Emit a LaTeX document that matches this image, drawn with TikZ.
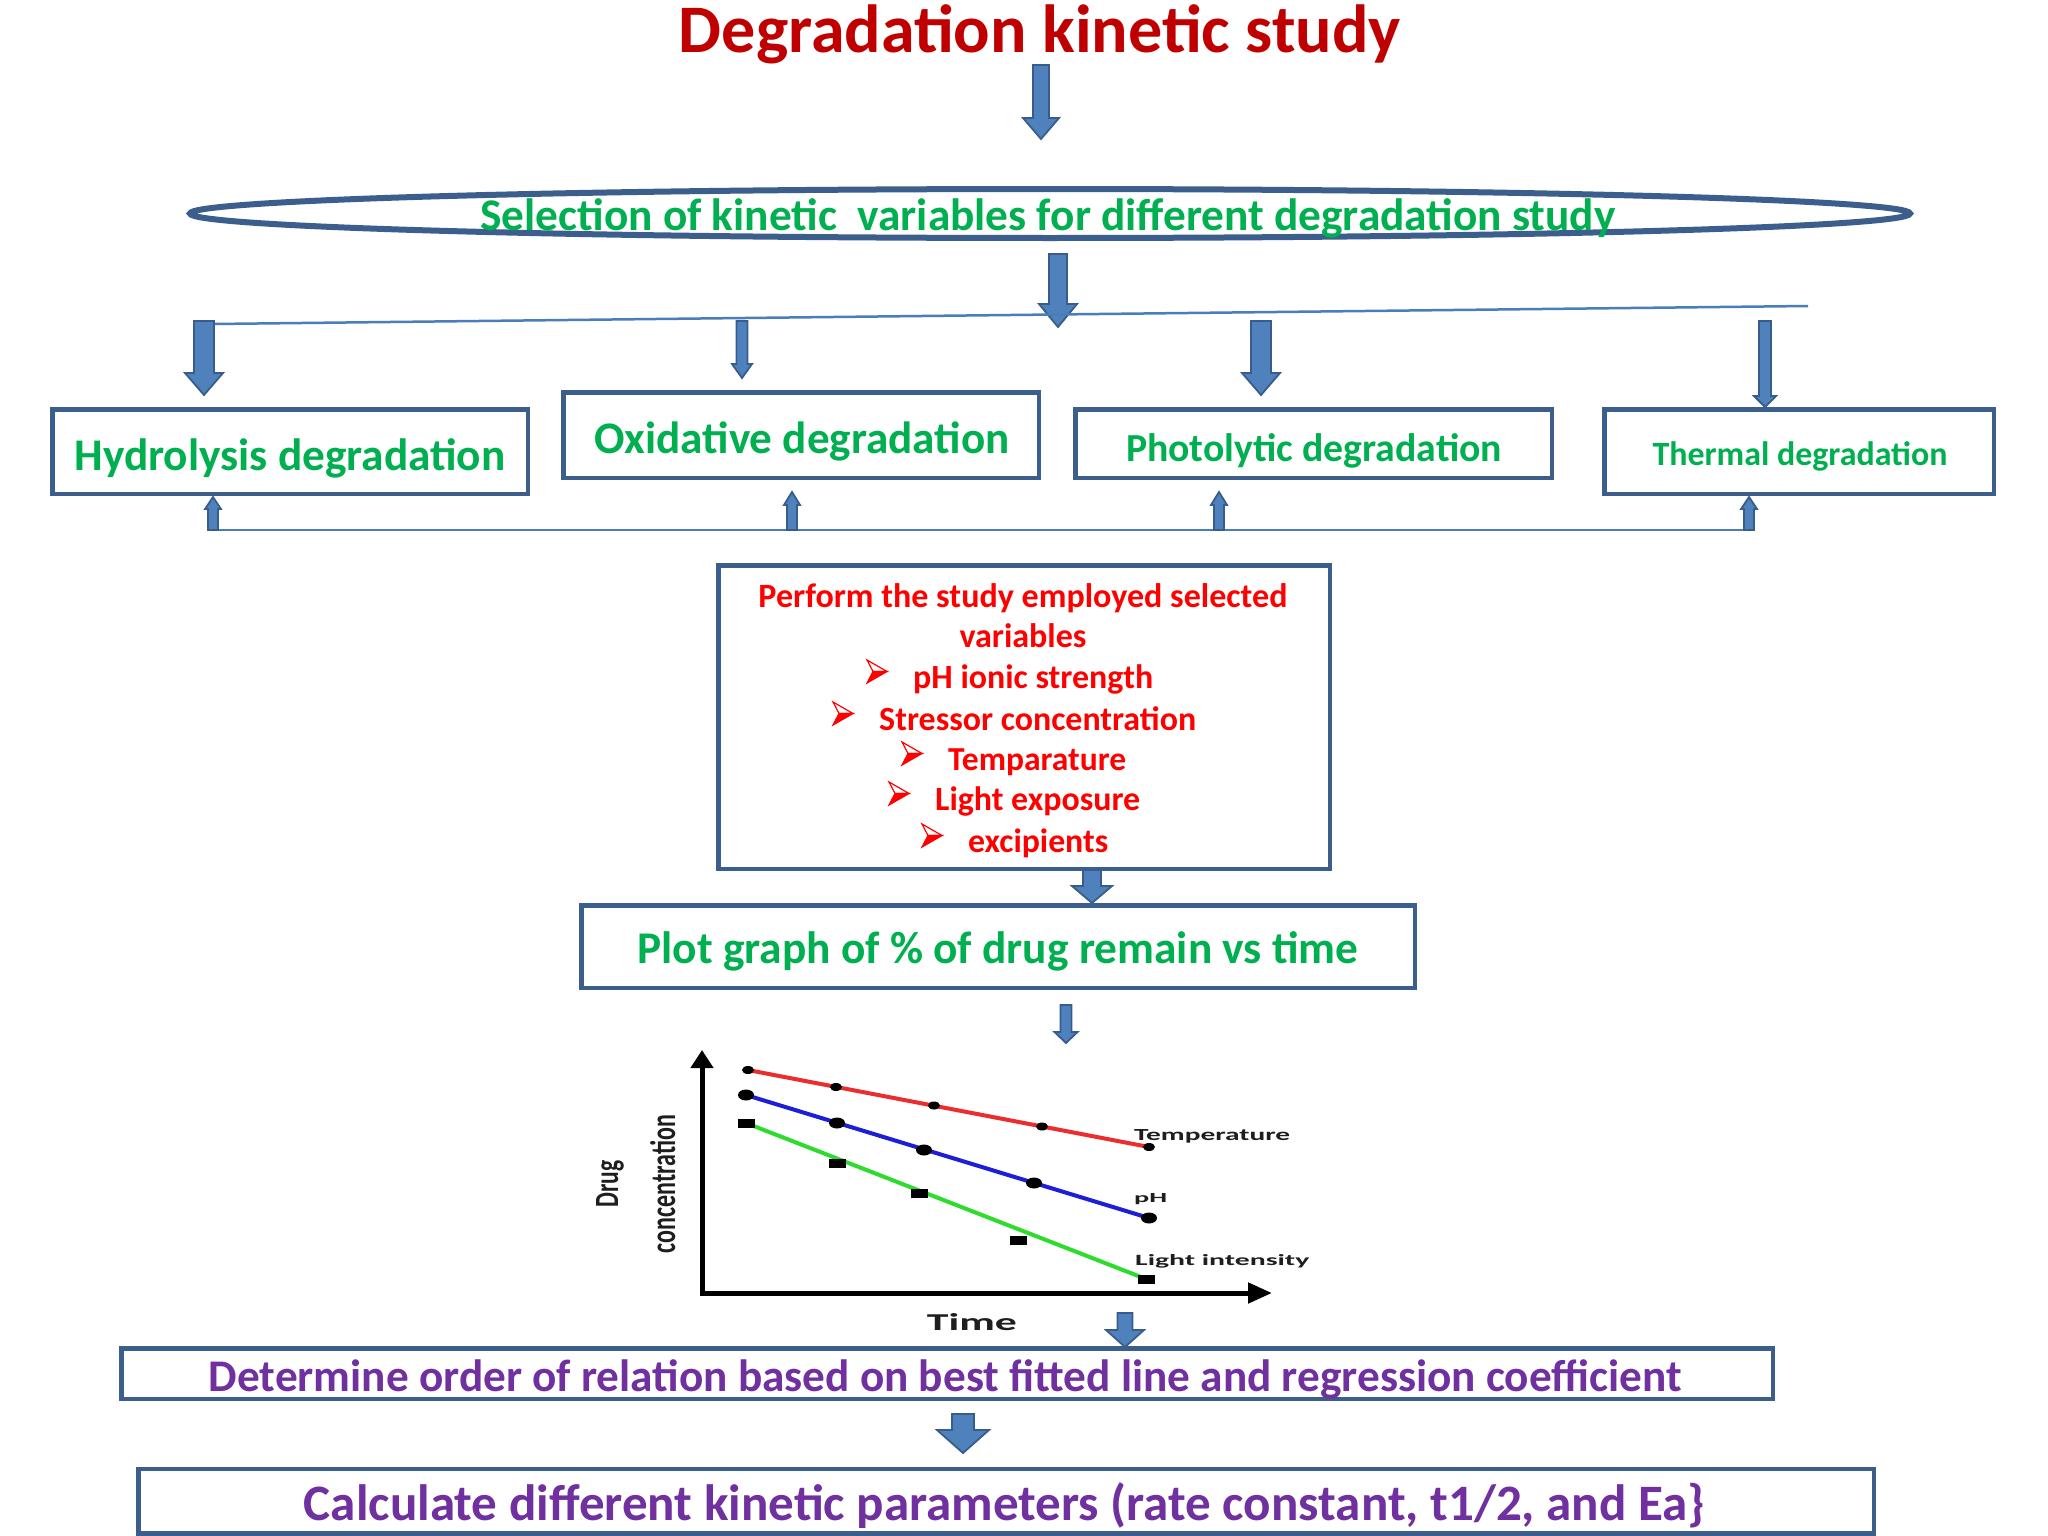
\documentclass[tikz,border=0pt]{standalone}
\usepackage{graphicx}
\usepackage{fontspec}
\setmainfont{Carlito}
\usetikzlibrary{calc,arrows.meta,shapes.geometric}
\definecolor{titlered}{HTML}{C00000}
\definecolor{tgreen}{HTML}{00B050}
\definecolor{tred}{HTML}{FF0000}
\definecolor{tpurple}{HTML}{7030A0}
\definecolor{bord}{HTML}{3B5E8D}
\definecolor{afill}{HTML}{4F81BD}
\definecolor{aline}{HTML}{385D8A}
\definecolor{lline}{HTML}{4A7EBB}
\definecolor{gred}{RGB}{235,45,45}
\definecolor{gblue}{RGB}{30,30,215}
\definecolor{ggreen}{RGB}{45,220,45}
\definecolor{gtext}{RGB}{30,30,30}
\newcommand\fw[2]{\resizebox{#1pt}{!}{\fontsize{40}{48}\selectfont\bfseries #2}}
\newcommand\gl[3]{\resizebox{#1pt}{#2pt}{\bfseries #3}}
% down block arrow: x, ytop, ybot, half shaft, half head, head length
\newcommand\darr[6]{\draw[barrow] (#1-#4,#2) -- (#1+#4,#2) -- (#1+#4,#3-#6) -- (#1+#5,#3-#6) -- (#1,#3) -- (#1-#5,#3-#6) -- (#1-#4,#3-#6) -- cycle;}
% up block arrow: x, ybottom, ytop, half shaft, half head, head length
\newcommand\uarr[6]{\draw[barrow] (#1-#4,#2) -- (#1+#4,#2) -- (#1+#4,#3+#6) -- (#1+#5,#3+#6) -- (#1,#3) -- (#1-#5,#3+#6) -- (#1-#4,#3+#6) -- cycle;}
% bullet arrowhead: left x, baseline y
\newcommand\bul[2]{%
  \filldraw[draw=tred,fill=white,line width=1.2pt,line join=miter] (#1,#2-28) -- (#1+20,#2-16.5) -- (#1+6,#2-16.5) -- cycle;
  \filldraw[draw=tred,fill=tred,line width=1.2pt,line join=miter] (#1+6,#2-16.5) -- (#1+20,#2-16.5) -- (#1,#2-5) -- cycle;}
\begin{document}
\begin{tikzpicture}[x=1pt,y=-1pt,
  barrow/.style={fill=afill,draw=aline,line width=1.8pt,line join=miter},
  boxst/.style={draw=bord,line width=4.5pt,rectangle,inner sep=0pt,fill=white},
  linkline/.style={draw=lline,line width=2.5pt},
  txt/.style={anchor=base,inner sep=0pt},
  txtw/.style={anchor=base west,inner sep=0pt},
  dotm/.style={ellipse,fill=black,inner sep=0pt},
  sqm/.style={rectangle,fill=black,inner sep=0pt,minimum width=17pt,minimum height=9pt}]
\useasboundingbox (0,0) rectangle (2048,1536);
\fill[white] (0,0) rectangle (2048,1536);

% title
\node[txt,text=titlered] (title) at (1040,53) {\fw{722}{Degradation kinetic study}};
\darr{1041}{65}{139}{8}{18}{21}

% ellipse
\node[ellipse,draw=bord,line width=6pt,inner sep=0pt,minimum width=1720pt,minimum height=49pt] (sel) at (1050,213.5) {};
\node[txt,text=tgreen] (selt) at (1048,230) {\fw{1135}{Selection of kinetic~ variables for different degradation study}};
\darr{1058}{254}{327}{9}{19}{23}

% distribution line
\coordinate (dl) at (213,324);
\coordinate (dr) at (1808,306);
\draw[linkline] (dl) -- (dr);
\darr{204}{321}{395}{10}{19}{22}
\darr{742}{321}{378}{5.5}{10}{14}
\darr{1261}{321}{395}{10}{19}{22}
\darr{1765}{321}{407}{6}{11}{11}

% four boxes
\node[boxst,minimum width=475.5pt,minimum height=84.5pt] (hyd) at (290,451.5) {};
\node[boxst,minimum width=475.5pt,minimum height=85.5pt] (oxi) at (801,435) {};
\node[boxst,minimum width=476.5pt,minimum height=68.5pt] (pho) at (1313.5,443.5) {};
\node[boxst,minimum width=389.5pt,minimum height=84.5pt] (the) at (1799,451.5) {};
\node[txt,text=tgreen] (hydt) at (290,470) {\fw{431}{Hydrolysis degradation}};
\node[txt,text=tgreen] (oxit) at (802,453) {\fw{415}{Oxidative degradation}};
\node[txt,text=tgreen] (phot) at (1314,461) {\fw{376}{Photolytic degradation}};
\node[txt,text=tgreen] (thet) at (1800,465) {\fw{295}{Thermal degradation}};

% bottom collecting line and up arrows
\coordinate (bl) at (213,530);
\coordinate (br) at (1749,530);
\draw[linkline] (bl) -- (br);
\uarr{213}{530}{497}{5}{8}{12}
\uarr{792}{530}{492}{5}{8}{13}
\uarr{1219}{530}{492}{5}{8}{13}
\uarr{1749}{530}{497}{5}{8}{12}

% perform box
\node[boxst,minimum width=611.5pt,minimum height=303.5pt] (per) at (1024,717) {};
\node[txt,text=tred] (p1) at (1023,607) {\fw{529}{Perform the study employed selected}};
\node[txt,text=tred] (p2) at (1023,647) {\fw{127}{variables}};
\node[txtw,text=tred] (p3) at (913,688) {\fw{240}{pH ionic strength}};
\node[txtw,text=tred] (p4) at (879,730) {\fw{317}{Stressor concentration}};
\node[txtw,text=tred] (p5) at (948,770) {\fw{178}{Temparature}};
\node[txtw,text=tred] (p6) at (935,810) {\fw{205}{Light exposure}};
\node[txtw,text=tred] (p7) at (968,852) {\fw{140}{excipients}};
\bul{867}{688}
\bul{833}{730}
\bul{902}{770}
\bul{889}{810}
\bul{922}{852}
\darr{1092}{870}{903}{9}{20}{17}

% plot box
\node[boxst,minimum width=833.5pt,minimum height=82.5pt] (plot) at (998,946.5) {};
\node[txt,text=tgreen] (plott) at (998,963) {\fw{721}{Plot graph of \% of drug remain vs time}};
\darr{1066}{1005}{1043}{5.5}{11.5}{11}

% graph
\coordinate (o) at (702,1293);
\coordinate (ytop) at (702,1050);
\coordinate (xend) at (1272,1293);
\draw[line width=5pt,-{Triangle[length=18pt,width=22pt]}] ($(o)+(0,2.5)$) -- (ytop);
\draw[line width=5pt,-{Triangle[length=24pt,width=20pt]}] ($(o)+(-2.5,0)$) -- (xend);
\draw[gred,line width=4pt] (748,1070) -- (1149,1147);
\draw[gblue,line width=4pt] (746,1095) -- (1149,1218);
\draw[ggreen,line width=4pt] (746,1123) -- (1146,1279);
\foreach \px/\py [count=\i] in {748/1070,836/1087,934/1105.5,1042/1126.5,1149/1147}
  \node[dotm,minimum width=12pt,minimum height=8pt] (r\i) at (\px,\py) {};
\foreach \px/\py [count=\i] in {746/1095,837/1123,924/1150,1034/1183,1149/1218}
  \node[dotm,minimum width=16pt,minimum height=11pt] (b\i) at (\px,\py) {};
\foreach \px/\py [count=\i] in {746/1123,837/1163,919/1193,1018/1240,1146/1279}
  \node[sqm] (g\i) at (\px,\py) {};
\node[txtw,text=gtext] (ltemp) at (1134,1140) {\gl{156}{11}{Temperature}};
\node[txtw,text=gtext] (lph) at (1134,1202) {\gl{33}{9}{pH}};
\node[txtw,text=gtext] (llight) at (1135,1265) {\gl{174}{11}{Light intensity}};
\node[txt,text=gtext] (ltime) at (972,1330) {\gl{90}{17}{Time}};
\node[txt,rotate=90,text=gtext] (ldrug) at (618,1184) {\gl{47}{22}{Drug}};
\node[txt,rotate=90,text=gtext] (lconc) at (675,1184) {\gl{138}{25}{concentration}};
\darr{1125}{1313}{1347}{7.5}{19}{17}

% determine box
\node[boxst,minimum width=1651.5pt,minimum height=50.5pt] (det) at (947,1373.5) {};
\node[txt,text=tpurple] (dett) at (945.5,1391) {\fw{1473}{Determine order of relation based on best fitted line and regression coefficient}};
\darr{963}{1414}{1453}{11}{26}{23}

% calculate box
\node[boxst,minimum width=1735.5pt,minimum height=64.5pt] (cal) at (1006,1501) {};
\node[txt,text=tpurple] (calt) at (1004.5,1520) {\fw{1401}{Calculate different kinetic parameters (rate constant, t1/2, and Ea\}}};
\end{tikzpicture}
\end{document}
